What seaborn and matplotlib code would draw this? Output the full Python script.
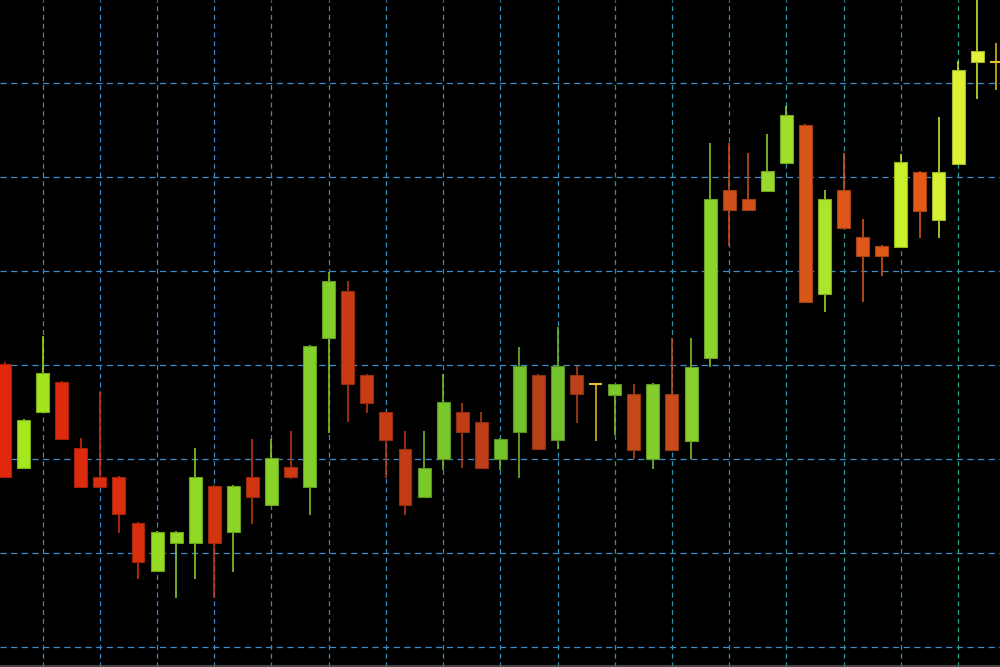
import numpy as np
import pandas as pd
import matplotlib
matplotlib.use("Agg")
import matplotlib.pyplot as plt
from matplotlib.colors import LinearSegmentedColormap, to_rgb
import seaborn as sns

# OHLC (price units, grid every 10)
opens = [130.1, 119.0, 125.0, 128.2, 121.2, 118.1, 118.1, 113.2, 108.1, 111.1,
         111.1, 117.1, 112.2, 118.1, 115.1, 119.2, 117.0, 132.9, 137.9, 128.9,
         125.0, 121.1, 116.0, 120.0, 125.0, 123.9, 120.0, 122.9, 128.9, 122.0,
         128.9, 128.0, 126.8, 126.9, 120.0, 126.9, 121.9, 130.7, 148.6, 147.7,
         148.5, 151.5, 155.5, 137.6, 148.6, 143.6, 142.7, 142.5, 150.5, 145.4,
         151.4, 162.2, 162.2]
highs = [130.3, 124.3, 133.1, 128.3, 122.2, 127.1, 118.2, 113.3, 112.3, 112.3,
         121.2, 117.2, 117.2, 122.1, 122.1, 123.0, 132.1, 139.9, 138.9, 129.0,
         125.1, 123.0, 123.0, 129.0, 126.0, 125.0, 122.2, 131.9, 129.0, 134.0,
         129.9, 128.0, 128.0, 128.0, 128.1, 132.9, 132.9, 153.6, 153.6, 152.6,
         154.6, 157.6, 155.6, 148.6, 152.6, 145.5, 142.8, 152.4, 150.6, 156.4,
         162.3, 169.4, 164.3]
lows = [118.0, 118.9, 124.9, 122.0, 116.9, 116.9, 112.1, 107.2, 108.0, 105.2,
        107.2, 105.2, 108.0, 113.1, 115.0, 117.9, 114.0, 122.8, 123.9, 124.9,
        118.0, 114.0, 115.9, 118.8, 119.0, 118.9, 118.8, 118.0, 121.0, 121.1,
        123.8, 121.9, 122.6, 120.0, 118.9, 120.9, 120.0, 129.8, 142.7, 146.4,
        148.4, 151.4, 136.6, 135.6, 144.5, 136.7, 139.5, 142.4, 143.5, 143.5,
        151.3, 158.3, 159.3]
closes = [118.1, 124.1, 129.2, 122.1, 117.0, 117.0, 114.1, 109.0, 112.2, 112.2,
          118.1, 111.1, 117.1, 116.0, 120.1, 118.1, 132.0, 138.9, 128.0, 126.0,
          122.0, 115.1, 119.0, 126.1, 122.9, 119.0, 122.1, 129.9, 121.1, 129.9,
          126.9, 128.0, 128.0, 121.0, 128.0, 121.0, 129.8, 147.7, 146.5, 146.5,
          150.6, 156.6, 136.7, 147.7, 144.6, 141.6, 141.6, 151.6, 146.4, 150.5,
          161.4, 163.4, 162.2]

grid_prices = [100, 110, 120, 130, 140, 150, 160]

df = pd.DataFrame({"open": opens, "high": highs, "low": lows, "close": closes})
df["i"] = np.arange(len(df))

sns.set_theme(style="dark", rc={"axes.facecolor": "black", "figure.facecolor": "black"})

bull_cmap = LinearSegmentedColormap.from_list(
    "bull", [(0, "#a6e81c"), (0.3, "#84d02a"), (0.55, "#72c02c"),
             (0.75, "#92d82e"), (0.9, "#c6f02a"), (1, "#e8f23c")])
bear_cmap = LinearSegmentedColormap.from_list(
    "bear", [(0, "#e2280c"), (0.3, "#cc3a12"), (0.55, "#b8401a"),
             (0.8, "#d8561a"), (1, "#ea5c16")])
doji_color = "#e8c030"

fig = plt.figure(figsize=(10, 6.67), dpi=100)
ax = fig.add_axes([0, 0, 1, 1])
ax.set_facecolor("black")

n = len(df)
ax.set_xlim(-0.236, 52.2)
ax.set_ylim(97.87, 168.83)

# grid: dashed, blue on the left drifting to teal on the right
for gp in grid_prices:
    ax.axhline(gp, color="#3f8ccc", lw=0.9, ls=(0, (5, 3.5)), zorder=0)
for gx in range(2, n, 3):
    t = (gx / (n - 1)) ** 2
    c = (1 - t) * np.array(to_rgb("#3a86cc")) + t * np.array(to_rgb("#20a088"))
    ax.axvline(gx, color=c, lw=0.9, ls=(0, (4, 3)), zorder=0)

width = 0.68
for _, r in df.iterrows():
    t = r["i"] / (n - 1)
    if r["close"] > r["open"]:
        col = bull_cmap(t)
    elif r["close"] < r["open"]:
        col = bear_cmap(t)
    else:
        col = doji_color
    edge = tuple(np.array(to_rgb(col)) * 0.75)
    ax.vlines(r["i"], r["low"], r["high"], color=col, lw=1.1, zorder=2)
    if r["close"] == r["open"]:
        ax.hlines(r["open"], r["i"] - width / 2, r["i"] + width / 2,
                  color=col, lw=1.5, zorder=3)
    else:
        lo = min(r["open"], r["close"])
        ax.bar(r["i"], abs(r["close"] - r["open"]), bottom=lo, width=width,
               color=col, edgecolor=edge, linewidth=0.8, zorder=3)

ax.axhline(97.95, color="#555555", lw=1.2, zorder=1)
ax.set_xticks([])
ax.set_yticks([])
for s in ax.spines.values():
    s.set_visible(False)

fig.savefig("out.png", dpi=100, facecolor="black")
